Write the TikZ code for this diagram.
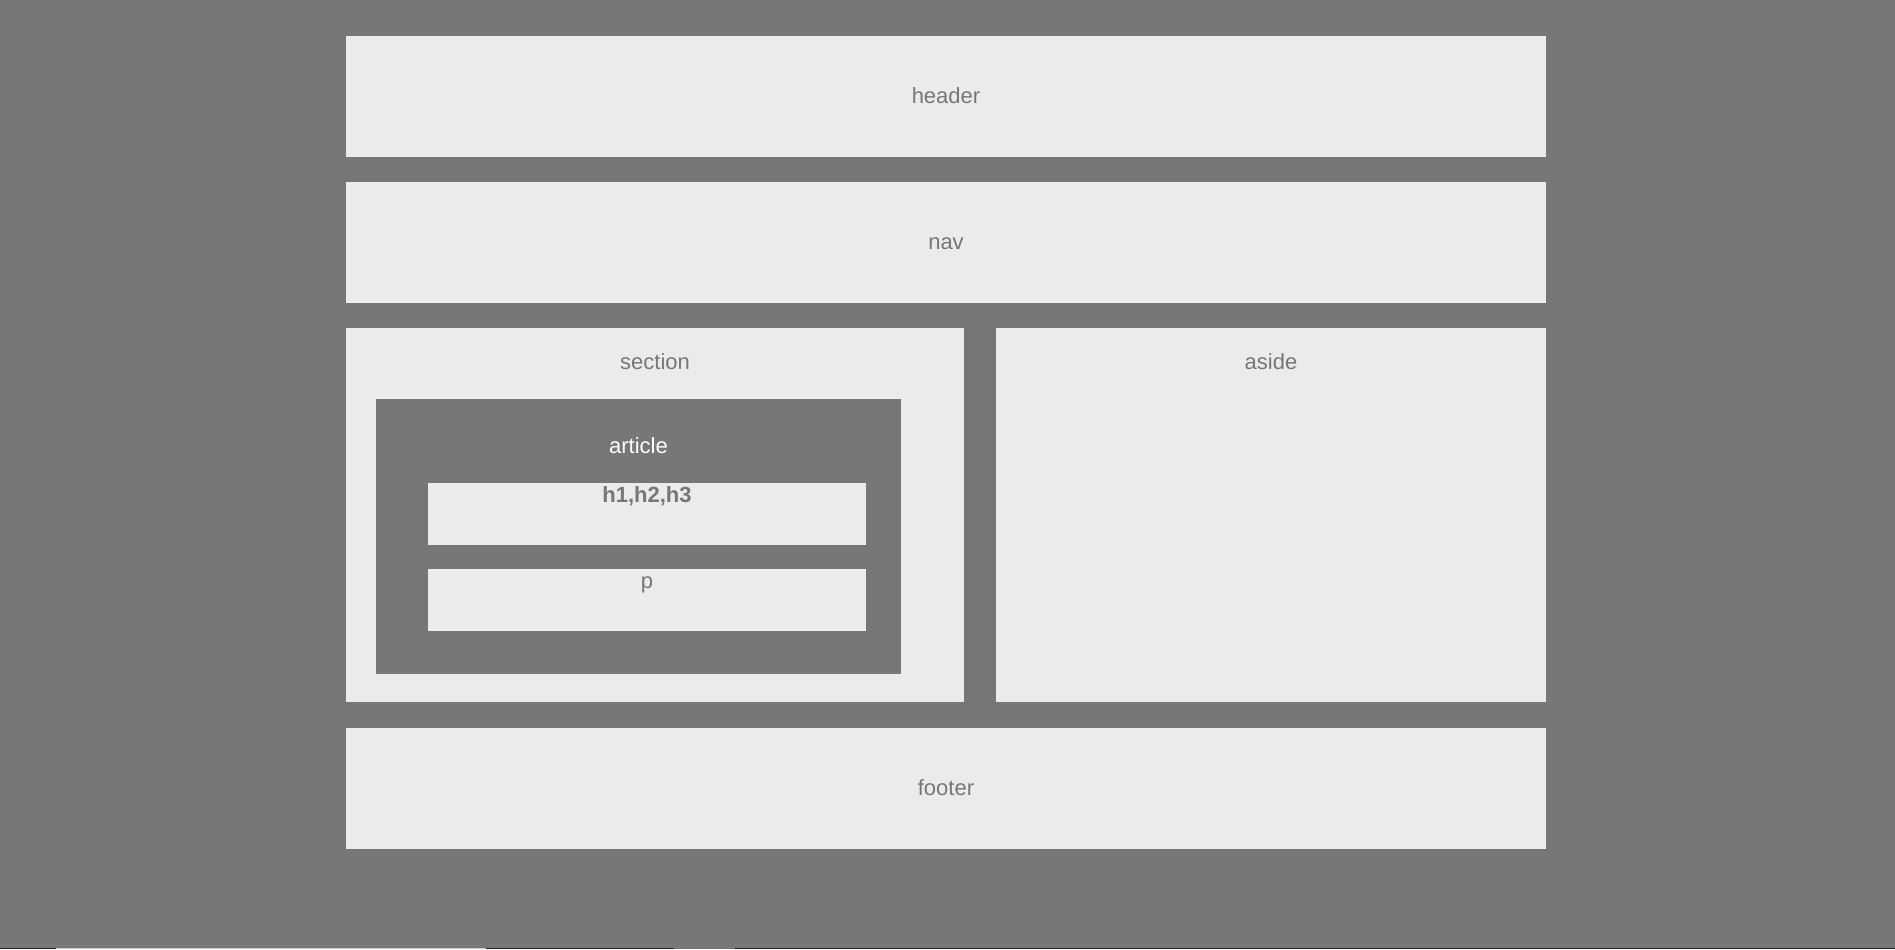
\documentclass[tikz,border=0pt]{standalone}
\usepackage{fontspec}
\setmainfont{Liberation Sans}
\usetikzlibrary{calc}
\definecolor{pagegray}{HTML}{777777}
\definecolor{boxgray}{HTML}{EBEBEB}
\definecolor{stripdark}{HTML}{202020}
\definecolor{striplight}{HTML}{C8C8C8}
\tikzset{
  block/.style={fill=boxgray},
  hole/.style={fill=pagegray},
  lbl/.style={anchor=base,inner sep=0pt,text=pagegray,font=\fontsize{11}{13}\selectfont},
}

\begin{document}
\begin{tikzpicture}[x=0.5pt,y=-0.5pt]
% -- page
\fill[pagegray] (0,0) rectangle (1895,949);
\useasboundingbox (0,0) rectangle (1895,949);
% -- define corners
\coordinate (hd1) at (346,36);  \coordinate (hd2) at (1546,157);
\coordinate (nv1) at (346,182); \coordinate (nv2) at (1546,303);
\coordinate (sc1) at (346,328); \coordinate (sc2) at (964,702);
\coordinate (as1) at (996,328); \coordinate (as2) at (1546,702);
\coordinate (ar1) at (376,399); \coordinate (ar2) at (901,673.5);
\coordinate (hh1) at (428,483); \coordinate (hh2) at (866,544.5);
\coordinate (pp1) at (428,569); \coordinate (pp2) at (866,630.5);
\coordinate (ft1) at (346,728); \coordinate (ft2) at (1546,849);
% -- draw blocks
\fill[block] (hd1) rectangle (hd2);
\fill[block] (nv1) rectangle (nv2);
\fill[block] (sc1) rectangle (sc2);
\fill[block] (as1) rectangle (as2);
\fill[hole]  (ar1) rectangle (ar2);
\fill[block] (hh1) rectangle (hh2);
\fill[block] (pp1) rectangle (pp2);
\fill[block] (ft1) rectangle (ft2);
% -- draw labels
\node[lbl] (header)  at (946,103.2)   {header};
\node[lbl] (nav)     at (946,249.2)   {nav};
\node[lbl] (section) at (655,369.8)   {section};
\node[lbl] (aside)   at (1271,369.8)  {aside};
\node[lbl,text=white] (article) at (638.5,453.3) {article};
\node[lbl,font=\fontsize{11}{13}\selectfont\bfseries] (heads) at (647,502.7) {h1,h2,h3};
\node[lbl] (para)    at (647,588.7)   {p};
\node[lbl] (footer)  at (946,795.2)   {footer};
% -- bottom strip
\fill[stripdark]  (0,948) rectangle (1895,949);
\fill[striplight] (56,948) rectangle (486,949);
\fill[pagegray]   (674,948) rectangle (735,949);
\end{tikzpicture}
\end{document}
